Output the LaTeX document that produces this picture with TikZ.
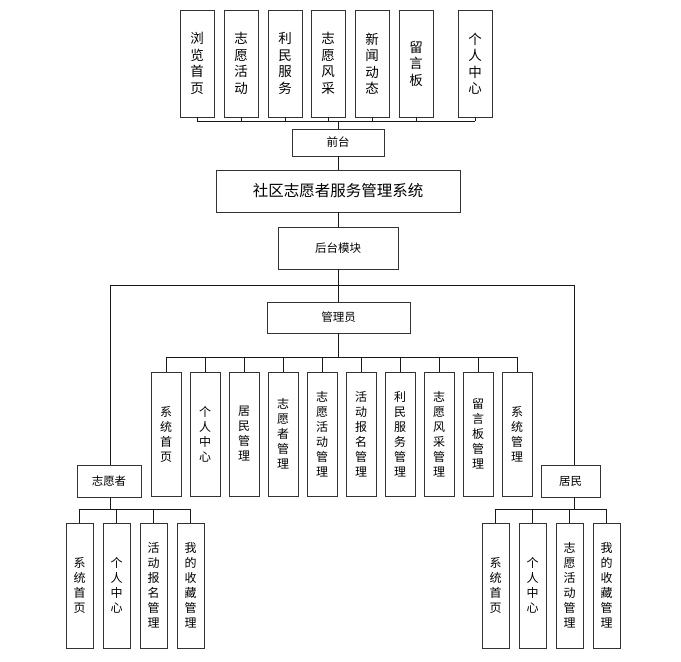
\documentclass[tikz,border=0pt]{standalone}
\usepackage{fontspec}
\setmainfont{Noto Sans CJK SC}
\begin{document}
\begin{tikzpicture}[x=1pt,y=-1pt,
 box/.style={draw=black!80,line width=0.9pt,fill=white,inner sep=0pt,align=center,font=\fontsize{13.5}{16.5}\selectfont},
 sm/.style={box,font=\fontsize{12}{15}\selectfont},
 hd/.style={box,font=\fontsize{11.5}{13}\selectfont},
 ln/.style={line width=1pt,black!90}]
\useasboundingbox (0,0) rectangle (681,662);
\newcommand\bx[7][box]{\node[#1,minimum width={#5-#3},minimum height={#6-#4}] (#2) at ({(#3+#5)/2},{(#4+#6)/2}) {#7};}
% top
\bx{t1}{180}{10}{214}{117}{浏\\览\\首\\页}
\bx{t2}{224}{10}{258}{117}{志\\愿\\活\\动}
\bx{t3}{268}{10}{302}{117}{利\\民\\服\\务}
\bx{t4}{311}{10}{345}{117}{志\\愿\\风\\采}
\bx{t5}{355}{10}{389}{117}{新\\闻\\动\\态}
\bx{t6}{399}{10}{433}{117}{留\\言\\板}
\bx{t7}{458}{10}{492}{117}{个\\人\\中\\心}
\bx[hd]{qt}{292}{129}{384}{156}{前台}
\bx[box]{sys}{216}{170}{460}{212}{\fontsize{15.5}{18}\selectfont 社区志愿者服务管理系统}
\bx[hd]{ht}{278}{227}{398}{269}{后台模块}
\bx[hd]{gl}{267}{302}{410}{333}{管理员}
\bx[hd]{zy}{77}{465}{141}{497}{志愿者}
\bx[hd]{jm}{541}{465}{600}{497}{居民}
% admin
\bx[sm]{a1}{151}{372}{181}{496}{系\\统\\首\\页}
\bx[sm]{a2}{190}{372}{220}{496}{个\\人\\中\\心}
\bx[sm]{a3}{229}{372}{259}{496}{居\\民\\管\\理}
\bx[sm]{a4}{268}{372}{298}{496}{志\\愿\\者\\管\\理}
\bx[sm]{a5}{307}{372}{337}{496}{志\\愿\\活\\动\\管\\理}
\bx[sm]{a6}{346}{372}{376}{496}{活\\动\\报\\名\\管\\理}
\bx[sm]{a7}{385}{372}{415}{496}{利\\民\\服\\务\\管\\理}
\bx[sm]{a8}{424}{372}{454}{496}{志\\愿\\风\\采\\管\\理}
\bx[sm]{a9}{463}{372}{493}{496}{留\\言\\板\\管\\理}
\bx[sm]{a10}{502}{372}{532}{496}{系\\统\\管\\理}
% volunteer
\bx[sm]{v1}{66}{523}{93}{648}{系\\统\\首\\页}
\bx[sm]{v2}{103}{523}{130}{648}{个\\人\\中\\心}
\bx[sm]{v3}{140}{523}{167}{648}{活\\动\\报\\名\\管\\理}
\bx[sm]{v4}{177}{523}{204}{648}{我\\的\\收\\藏\\管\\理}
% resident
\bx[sm]{r1}{482}{523}{509}{648}{系\\统\\首\\页}
\bx[sm]{r2}{519}{523}{546}{648}{个\\人\\中\\心}
\bx[sm]{r3}{556}{523}{583}{648}{志\\愿\\活\\动\\管\\理}
\bx[sm]{r4}{593}{523}{620}{648}{我\\的\\收\\藏\\管\\理}
% connectors
\foreach \n in {t1,t2,t3,t4,t5,t6,t7} \draw[ln] (\n.south) -- (\n.south |- 0,121);
\draw[ln] (t1.south |- 0,121) -- (t7.south |- 0,121);
\draw[ln] (qt.north) -- (qt.north |- 0,121);
\draw[ln] (qt) -- (sys);
\draw[ln] (sys) -- (ht);
\draw[ln] (ht.south) -- (ht.south |- gl.north);
\coordinate (hl) at (110,285);
\coordinate (hr) at (574,285);
\draw[ln] (hl) -- (hr);
\draw[ln] (hl) -- (hl |- zy.north);
\draw[ln] (hr) -- (hr |- jm.north);
\foreach \n in {a1,a2,a3,a4,a5,a6,a7,a8,a9,a10} \draw[ln] (\n.north) -- (\n.north |- 0,357);
\draw[ln] (a1.north |- 0,357) -- (a10.north |- 0,357);
\draw[ln] (gl.south) -- (gl.south |- 0,357);
\foreach \n in {v1,v2,v3,v4} \draw[ln] (\n.north) -- (\n.north |- 0,509);
\draw[ln] (v1.north |- 0,509) -- (v4.north |- 0,509);
\draw[ln] (hl |- zy.south) -- (hl |- 0,509);
\foreach \n in {r1,r2,r3,r4} \draw[ln] (\n.north) -- (\n.north |- 0,509);
\draw[ln] (r1.north |- 0,509) -- (r4.north |- 0,509);
\draw[ln] (hr |- jm.south) -- (hr |- 0,509);
\end{tikzpicture}
\end{document}
